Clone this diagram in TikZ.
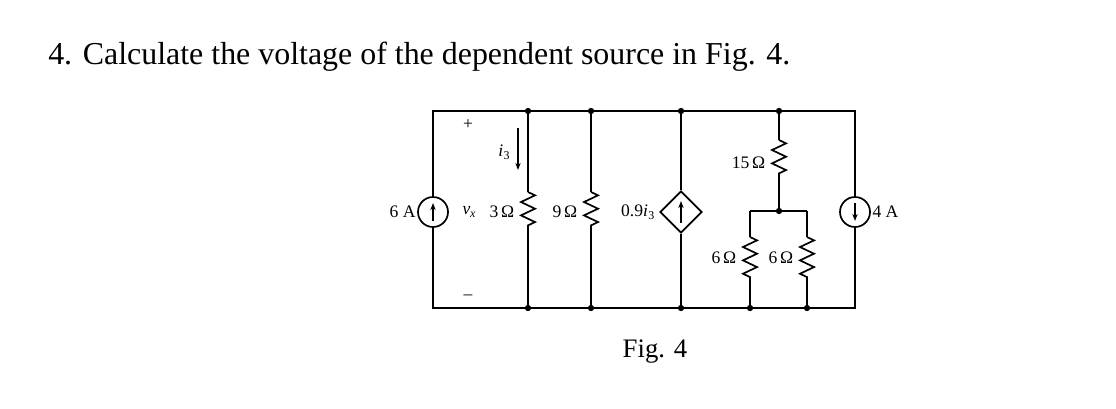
\documentclass[tikz,border=0pt]{standalone}
\usepackage{fontspec}
\setmainfont{Liberation Serif}
\usetikzlibrary{shapes.geometric,decorations.pathmorphing,arrows.meta}
\tikzset{
  wire/.style={line width=1.2pt},
  res/.style={wire, decorate, decoration={zigzag, segment length=9.5pt, amplitude=5pt}},
  src/.style={circle, draw, line width=1.2pt, minimum size=30\unitpx, inner sep=0pt},
  dsrc/.style={diamond, draw, line width=1.2pt, minimum size=42\unitpx, inner sep=0pt},
  dot/.style={circle, fill, inner sep=0pt, minimum size=4.5pt},
  lbl/.style={font=\fontsize{12.5}{14}\selectfont, inner sep=1pt}
}
\newcommand{\unitpx}{*0.025cm}
\newcommand{\ithree}{\textit{i}\kern0.3pt\raisebox{-2.5pt}{\fontsize{8.5}{9}\selectfont 3}}
\begin{document}
\begin{tikzpicture}[x=0.025cm, y=-0.025cm, >={Stealth[length=5pt]}]
\useasboundingbox (0,0) rectangle (1116,408);
% title and caption
\node[anchor=base west, font=\fontsize{22.7}{26}\selectfont, inner sep=0pt] (title) at (48,64) {4. Calculate the voltage of the dependent source in Fig. 4.};
\node[font=\fontsize{19}{22}\selectfont] (cap) at (655,352) {Fig. 4};
% corners and junctions
\coordinate (tl) at (433,111); \coordinate (bl) at (433,308);
\coordinate (tr) at (855,111); \coordinate (br) at (855,308);
\foreach \n/\x in {a/528, b/591, c/681, d/779}
  \node[dot] (t\n) at (\x,111) {};
\foreach \n/\x in {a/528, b/591, c/681, e/750, f/807}
  \node[dot] (b\n) at (\x,308) {};
\node[dot] (j) at (779,211) {};
\coordinate (je) at (750,211); \coordinate (jf) at (807,211);
% sources
\node[src] (s6) at (433,212) {};
\draw[->, line width=1pt] ([yshift=-9\unitpx]s6.center) -- ([yshift=9\unitpx]s6.center);
\node[src] (s4) at (855,212) {};
\draw[->, line width=1pt] ([yshift=9\unitpx]s4.center) -- ([yshift=-9\unitpx]s4.center);
\node[dsrc] (dep) at (681,212) {};
\draw[->, line width=1pt] ([yshift=-11\unitpx]dep.center) -- ([yshift=11\unitpx]dep.center);
% resistor ends
\coordinate (r3t) at (528,192); \coordinate (r3b) at (528,232);
\coordinate (r9t) at (591,192); \coordinate (r9b) at (591,232);
\coordinate (r15t) at (779,140); \coordinate (r15b) at (779,180);
\coordinate (r6at) at (750,237); \coordinate (r6ab) at (750,278);
\coordinate (r6bt) at (807,237); \coordinate (r6bb) at (807,278);
% wires
\draw[wire] (s6.north) -- (tl) -- (tr) -- (s4.north);
\draw[wire] (s6.south) -- (bl) -- (br) -- (s4.south);
\draw[wire] (ta) -- (r3t); \draw[res] (r3t) -- (r3b); \draw[wire] (r3b) -- (ba);
\draw[wire] (tb) -- (r9t); \draw[res] (r9t) -- (r9b); \draw[wire] (r9b) -- (bb);
\draw[wire] (tc) -- (dep.north); \draw[wire] (dep.south) -- (bc);
\draw[wire] (td) -- (r15t); \draw[res] (r15t) -- (r15b); \draw[wire] (r15b) -- (j);
\draw[wire] (je) -- (jf);
\draw[wire] (je) -- (r6at); \draw[res] (r6at) -- (r6ab); \draw[wire] (r6ab) -- (be);
\draw[wire] (jf) -- (r6bt); \draw[res] (r6bt) -- (r6bb); \draw[wire] (r6bb) -- (bf);
% labels
\node[lbl, anchor=east] (l6) at (s6.west) {6 A};
\node[lbl, anchor=west] (l4) at (s4.east) {4 A};
\node[lbl] (vx) at (469,212) {\textit{v}\kern-0.3pt\raisebox{-2.5pt}{\fontsize{8.5}{9}\selectfont\textit{x}}};
\node[lbl] (plus) at (468,125) {+};
\node[lbl] (minus) at (468,297) {\textendash};
\coordinate (ia) at (518,128); \coordinate (ib) at (518,170);
\draw[->, line width=0.8pt] (ia) -- (ib);
\node[lbl] (i3) at (504,152) {\ithree};
\node[lbl, anchor=east] (l3) at (516,212) {3\,Ω};
\node[lbl, anchor=east] (l9) at (579,212) {9\,Ω};
\node[lbl, anchor=east] (ldep) at (656,212) {0.9\ithree};
\node[lbl, anchor=east] (l15) at (767,163) {15\,Ω};
\node[lbl, anchor=east] (l6a) at (738,258) {6\,Ω};
\node[lbl, anchor=east] (l6b) at (795,258) {6\,Ω};
\end{tikzpicture}
\end{document}
